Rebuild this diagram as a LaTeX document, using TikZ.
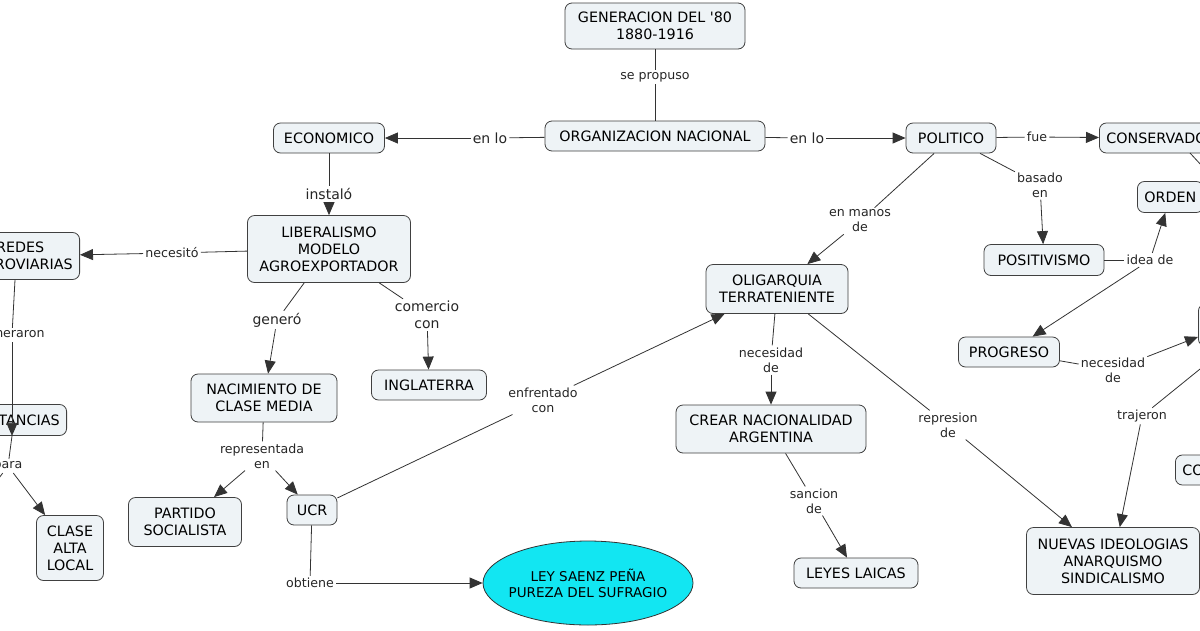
\documentclass[tikz,border=0pt]{standalone}
\usepackage{fontspec}
\setmainfont{DejaVu Sans}
\usetikzlibrary{arrows.meta,shapes.geometric}
\definecolor{boxfill}{HTML}{EEF3F6}
\definecolor{cyanfill}{HTML}{12E6F2}
\begin{document}
\begin{tikzpicture}[x=1pt,y=-1pt,
 box/.style={draw=black!75,fill=boxfill,rounded corners=7pt,align=center,line width=0.8pt,
   font=\fontsize{14.3}{17}\selectfont,inner xsep=7pt,inner ysep=5pt},
 lab/.style={align=center,font=\fontsize{12.6}{15}\selectfont,inner sep=2pt,text=black!85},
 blab/.style={lab,font=\fontsize{14}{17}\selectfont},
 ln/.style={draw=black!80,line width=0.8pt},
 ar/.style={ln,-{Triangle[length=13pt,width=11pt]}}]
\useasboundingbox (0,0) rectangle (1200,630);
\clip (0,0) rectangle (1200,630);
\fill[white] (0,0) rectangle (1200,630);
% nodes
\node[box,minimum width=180pt,minimum height=46pt] (gen) at (655,26) {GENERACION DEL \textquotesingle80\\1880-1916};
\node[box,minimum width=220pt,minimum height=30pt] (org) at (655,136) {ORGANIZACION NACIONAL};
\node[box,minimum width=111pt,minimum height=30pt] (eco) at (329,138) {ECONOMICO};
\node[box,minimum width=90pt,minimum height=30pt] (pol) at (951,138) {POLITICO};
\node[box,minimum height=30pt,anchor=west] (con) at (1099,138) {CONSERVADOR};
\node[box,minimum height=31pt,anchor=west] (ord) at (1137,197) {ORDEN};
\node[box,minimum width=120pt,minimum height=31pt] (pos) at (1044,260) {POSITIVISMO};
\node[box,minimum width=101pt,minimum height=30pt] (pro) at (1009,352) {PROGRESO};
\node[box,minimum width=60pt,minimum height=42pt,anchor=west] (rn) at (1198,325) {};
\node[box,minimum height=30pt,anchor=west] (co) at (1175,470) {CONFLICTOS};
\node[box,minimum width=173pt,minimum height=67pt] (nue) at (1113,561) {NUEVAS IDEOLOGIAS\\ANARQUISMO\\SINDICALISMO};
\node[box,minimum width=142pt,minimum height=49pt] (oli) at (777,289) {OLIGARQUIA\\TERRATENIENTE};
\node[box,minimum width=190pt,minimum height=48pt] (cre) at (771,429) {CREAR NACIONALIDAD\\ARGENTINA};
\node[box,minimum width=124pt,minimum height=30pt] (lai) at (856,573) {LEYES LAICAS};
\node[ellipse,draw=black!80,fill=cyanfill,line width=0.8pt,minimum width=210pt,minimum height=84pt,align=center,font=\fontsize{13.5}{16}\selectfont,inner sep=-9pt] (sae) at (588,583) {LEY SAENZ PEÑA\\PUREZA DEL SUFRAGIO};
\node[box,minimum width=50pt,minimum height=30pt] (ucr) at (312,510) {UCR};
\node[box,minimum width=113pt,minimum height=49pt] (par) at (185,522) {PARTIDO\\SOCIALISTA};
\node[box,minimum width=146pt,minimum height=48pt] (nac) at (264,398) {NACIMIENTO DE\\CLASE MEDIA};
\node[box,minimum width=115pt,minimum height=30pt] (ing) at (429,385) {INGLATERRA};
\node[box,minimum width=163pt,minimum height=67pt] (lib) at (329,249) {LIBERALISMO\\MODELO\\AGROEXPORTADOR};
\node[box,minimum height=47pt,anchor=east] (red) at (80,256) {REDES\\FERROVIARIAS};
\node[box,minimum height=31pt,anchor=east] (est) at (67,420) {ESTANCIAS};
\node[box,minimum width=67pt,minimum height=65pt] (cla) at (70,548) {CLASE\\ALTA\\LOCAL};
% labels
\node[lab] (l1) at (655,77) {se propuso};
\node[blab] (l2) at (490,138) {en lo};
\node[blab] (l3) at (807,138) {en lo};
\node[lab] (l4) at (1037,137) {fue};
\node[lab] (l5) at (1040,185) {basado\\en};
\node[lab] (l6) at (1150,260) {idea de};
\node[lab] (l7) at (1113,370) {necesidad\\de};
\node[lab] (l8) at (1142,416) {trajeron};
\node[lab] (l9) at (860,221) {en manos\\de};
\node[lab] (l10) at (771,360) {necesidad\\de};
\node[lab] (l11) at (948,425) {represion\\de};
\node[lab] (l12) at (814,501) {sancion\\de};
\node[lab] (l13) at (172,253) {necesitó};
\node[blab] (l14) at (329,194) {instaló};
\node[blab] (l15) at (277,320) {generó};
\node[blab] (l16) at (427,315) {comercio\\con};
\node[lab] (l17) at (262,456) {representada\\en};
\node[lab] (l18) at (543,400) {enfrentado\\con};
\node[lab] (l19) at (310,583) {obtiene};
\node[lab] (l20) at (12,335) {generaron};
\node[lab] (l21) at (8,466) {para};
\coordinate (c1) at (1215,180);
\coordinate (c2) at (1205,365);
\coordinate (c3) at (-10,490);
% connectors
\draw[ln] (gen) -- (l1); \draw[ln] (l1) -- (org);
\draw[ln] (org) -- (l2); \draw[ar] (l2) -- (eco);
\draw[ln] (org) -- (l3); \draw[ar] (l3) -- (pol);
\draw[ln] (pol) -- (l4); \draw[ar] (l4) -- (con);
\draw[ln] (1190,153) -- (c1);
\draw[ln] (pol) -- (l5); \draw[ar] (l5) -- (pos);
\draw[ln] (pos) -- (l6); \draw[ar] (l6) -- (ord); \draw[ar] (l6) -- (pro);
\draw[ln] (pro) -- (l7); \draw[ar] (l7) -- (rn);
\draw[ln] (c2) -- (l8); \draw[ar] (l8) -- (nue);
\draw[ln] (pol) -- (l9); \draw[ar] (l9) -- (oli);
\draw[ln] (oli) -- (l10); \draw[ar] (l10) -- (cre);
\draw[ln] (oli) -- (l11); \draw[ar] (l11) -- (nue);
\draw[ln] (cre) -- (l12); \draw[ar] (l12) -- (lai);
\draw[ln] (lib) -- (l13); \draw[ar] (l13) -- (red);
\draw[ln] (eco) -- (l14); \draw[ar] (l14) -- (lib);
\draw[ln] (lib) -- (l15); \draw[ar] (l15) -- (nac);
\draw[ln] (lib) -- (l16); \draw[ar] (l16) -- (ing);
\draw[ln] (nac) -- (l17); \draw[ar] (l17) -- (par); \draw[ar] (l17) -- (ucr);
\draw[ln] (ucr) -- (l18); \draw[ar] (l18) -- (oli);
\draw[ln] (ucr) -- (l19); \draw[ar] (l19) -- (sae);
\draw[ln] (red.south -| 15,0) -- (l20); \draw[ar] (l20) -- (est.south -| 12,0);
\draw[ln] (est.south -| 12,0) -- (l21); \draw[ar] (l21) -- (cla); \draw[ln] (l21) -- (c3);
\end{tikzpicture}
\end{document}
